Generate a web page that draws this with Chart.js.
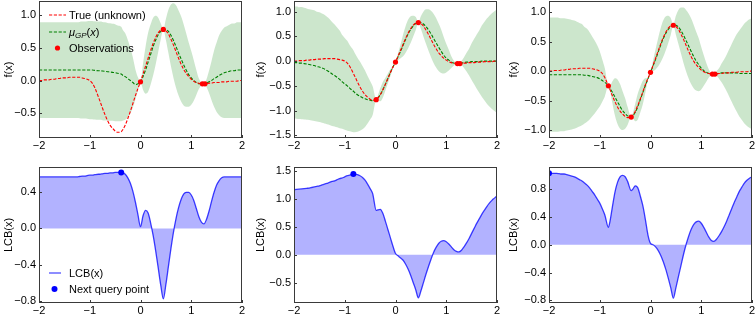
<!DOCTYPE html>
<html lang="en">
<head>
<meta charset="UTF-8">
<title>GP posterior and LCB</title>
<script src="https://cdn.jsdelivr.net/npm/chart.js@4.4.1/dist/chart.umd.min.js"></script>
<style>
body { margin: 0; background: #fff; }
#fig { position: relative; width: 756px; height: 316px; overflow: hidden;
       font-family: "Liberation Sans", Arial, sans-serif; color: #000; }
#fig canvas { position: absolute; }
.lg { position: absolute; left: 49px; height: 14px; display: flex; align-items: center;
      font-size: 11px; line-height: 14px; white-space: nowrap; }
.lg svg { width: 17px; height: 14px; margin-right: 3px; flex: none; display: block; }
sub { font-size: 8px; font-style: italic; vertical-align: -2px; line-height: 0; }
</style>
</head>
<body>
<div id="fig">
  <canvas id="c1" width="250" height="158" style="left:0;top:0"></canvas>
  <canvas id="c2" width="253" height="158" style="left:252px;top:0"></canvas>
  <canvas id="c3" width="251" height="158" style="left:505px;top:0"></canvas>
  <canvas id="c4" width="250" height="158" style="left:0;top:158px"></canvas>
  <canvas id="c5" width="253" height="158" style="left:252px;top:158px"></canvas>
  <canvas id="c6" width="251" height="158" style="left:505px;top:158px"></canvas>

  <!-- legend, top-left panel -->
  <div class="lg" style="top:8px"><svg viewBox="0 0 17 14"><line x1="0" y1="7" x2="17" y2="7" stroke="#ff0000" stroke-width="1.2" stroke-dasharray="3.2 1.6"/></svg>True (unknown)</div>
  <div class="lg" style="top:24.5px"><svg viewBox="0 0 17 14"><line x1="0" y1="7" x2="17" y2="7" stroke="#008000" stroke-width="1.2" stroke-dasharray="3.2 1.6"/></svg><span><i>μ</i><sub>GP</sub>(<i>x</i>)</span></div>
  <div class="lg" style="top:40.5px"><svg viewBox="0 0 17 14"><circle cx="8.5" cy="7" r="2.6" fill="#ff0000"/></svg>Observations</div>

  <!-- legend, bottom-left panel -->
  <div class="lg" style="top:266.3px"><svg viewBox="0 0 17 14"><line x1="0" y1="7" x2="12" y2="7" stroke="rgba(0,0,255,0.6)" stroke-width="1.5"/></svg>LCB(x)</div>
  <div class="lg" style="top:282px"><svg viewBox="0 0 17 14"><circle cx="5.5" cy="7" r="3" fill="#0000ff"/></svg>Next query point</div>
</div>

<script>
// x grid shared by every curve
const xs = [
  -2, -1.95, -1.9, -1.85, -1.8, -1.75, -1.7, -1.65, -1.6, -1.55,
  -1.5, -1.45, -1.4, -1.35, -1.3, -1.25, -1.2, -1.15, -1.1, -1.05,
  -1, -0.95, -0.9, -0.83, -0.8, -0.75, -0.7, -0.65, -0.6, -0.55,
  -0.5, -0.45, -0.38, -0.35, -0.3, -0.25, -0.2, -0.15, -0.1, -0.05,
  0, 0.05, 0.1, 0.15, 0.2, 0.25, 0.3, 0.35, 0.4, 0.45,
  0.5, 0.55, 0.6, 0.65, 0.7, 0.75, 0.8, 0.85, 0.9, 0.95,
  1, 1.05, 1.1, 1.15, 1.2, 1.25, 1.3, 1.35, 1.4, 1.45,
  1.5, 1.55, 1.6, 1.65, 1.7, 1.75, 1.8, 1.85, 1.9, 1.95,
  2
]

// true (unknown) function, same in all three top panels
const fTrue = [
  0.00, 0.00, 0.01, 0.01, 0.01, 0.02, 0.02, 0.03, 0.03, 0.04,
  0.04, 0.04, 0.05, 0.05, 0.05, 0.05, 0.05, 0.04, 0.03, 0.02,
  0.00, -0.04, -0.11, -0.25, -0.31, -0.42, -0.52, -0.61, -0.68, -0.73,
  -0.77, -0.79, -0.78, -0.75, -0.68, -0.58, -0.47, -0.35, -0.23, -0.12,
  -0.02, 0.10, 0.22, 0.34, 0.46, 0.57, 0.66, 0.73, 0.77, 0.78,
  0.76, 0.71, 0.63, 0.54, 0.44, 0.34, 0.25, 0.17, 0.11, 0.06,
  0.02, -0.01, -0.03, -0.04, -0.05, -0.05, -0.05, -0.04, -0.04, -0.03,
  -0.03, -0.03, -0.02, -0.02, -0.02, -0.01, -0.01, -0.01, -0.01, 0.00,
  0.00
]

// GP mean, one per iteration
const mean1 = [
  0.16, 0.16, 0.16, 0.16, 0.16, 0.16, 0.16, 0.16, 0.16, 0.16,
  0.16, 0.16, 0.16, 0.16, 0.16, 0.16, 0.16, 0.16, 0.16, 0.16,
  0.16, 0.16, 0.155, 0.15, 0.15, 0.145, 0.14, 0.135, 0.13, 0.125,
  0.12, 0.11, 0.10, 0.08, 0.06, 0.03, 0.00, -0.03, -0.06, -0.05,
  -0.02, 0.06, 0.16, 0.28, 0.40, 0.52, 0.62, 0.70, 0.75, 0.78,
  0.78, 0.75, 0.69, 0.61, 0.52, 0.42, 0.33, 0.24, 0.16, 0.09,
  0.04, 0.00, -0.03, -0.05, -0.05, -0.05, -0.04, -0.02, 0.00, 0.03,
  0.05, 0.08, 0.10, 0.12, 0.13, 0.14, 0.15, 0.15, 0.16, 0.16,
  0.16
]
const mean2 = [
  -0.03, -0.03, -0.04, -0.04, -0.05, -0.06, -0.07, -0.08, -0.09, -0.11,
  -0.12, -0.14, -0.16, -0.19, -0.22, -0.26, -0.29, -0.33, -0.37, -0.42,
  -0.46, -0.50, -0.55, -0.61, -0.64, -0.68, -0.71, -0.74, -0.76, -0.78,
  -0.79, -0.80, -0.78, -0.75, -0.68, -0.58, -0.47, -0.35, -0.23, -0.12,
  -0.02, 0.09, 0.20, 0.32, 0.44, 0.55, 0.64, 0.71, 0.76, 0.78,
  0.78, 0.75, 0.70, 0.63, 0.55, 0.46, 0.37, 0.28, 0.20, 0.12,
  0.06, 0.02, -0.02, -0.04, -0.05, -0.05, -0.04, -0.03, -0.02, -0.02,
  -0.01, -0.01, -0.01, -0.01, 0.00, 0.00, 0.00, 0.00, 0.00, 0.00,
  0.00
]
const mean3 = [
  -0.06, -0.06, -0.06, -0.06, -0.06, -0.06, -0.06, -0.06, -0.06, -0.06,
  -0.06, -0.06, -0.06, -0.06, -0.07, -0.07, -0.08, -0.09, -0.10, -0.11,
  -0.13, -0.16, -0.19, -0.25, -0.29, -0.36, -0.44, -0.52, -0.60, -0.67,
  -0.72, -0.76, -0.78, -0.76, -0.70, -0.60, -0.48, -0.36, -0.24, -0.13,
  -0.02, 0.09, 0.20, 0.32, 0.44, 0.55, 0.64, 0.71, 0.76, 0.78,
  0.78, 0.75, 0.69, 0.61, 0.52, 0.43, 0.34, 0.25, 0.17, 0.11,
  0.05, 0.01, -0.02, -0.04, -0.05, -0.05, -0.04, -0.04, -0.03, -0.03,
  -0.03, -0.03, -0.03, -0.03, -0.03, -0.04, -0.04, -0.04, -0.04, -0.04,
  -0.04
]

// LCB(x) (its negative is the lower edge of the band above)
const lcb1 = [
  0.57, 0.57, 0.57, 0.57, 0.57, 0.57, 0.57, 0.57, 0.57, 0.57,
  0.57, 0.57, 0.57, 0.57, 0.57, 0.57, 0.575, 0.58, 0.58, 0.585,
  0.59, 0.59, 0.595, 0.60, 0.60, 0.605, 0.61, 0.61, 0.615, 0.615,
  0.62, 0.62, 0.62, 0.615, 0.60, 0.56, 0.50, 0.41, 0.29, 0.15,
  0.02, 0.14, 0.20, 0.17, 0.06, -0.08, -0.25, -0.44, -0.63, -0.78,
  -0.62, -0.42, -0.22, -0.04, 0.11, 0.23, 0.32, 0.38, 0.40, 0.40,
  0.37, 0.31, 0.22, 0.13, 0.07, 0.05, 0.10, 0.19, 0.30, 0.40,
  0.48, 0.53, 0.56, 0.57, 0.57, 0.57, 0.57, 0.57, 0.57, 0.57,
  0.57
]
const lcb2 = [
  1.16, 1.165, 1.17, 1.175, 1.18, 1.185, 1.19, 1.20, 1.21, 1.22,
  1.23, 1.245, 1.26, 1.275, 1.29, 1.31, 1.32, 1.34, 1.36, 1.37,
  1.39, 1.41, 1.42, 1.44, 1.44, 1.43, 1.41, 1.38, 1.33, 1.26,
  1.18, 1.09, 0.79, 0.80, 0.81, 0.74, 0.60, 0.45, 0.30, 0.15,
  0.02, -0.02, -0.06, -0.10, -0.17, -0.26, -0.37, -0.50, -0.63, -0.77,
  -0.65, -0.50, -0.35, -0.21, -0.08, 0.04, 0.13, 0.20, 0.24, 0.25,
  0.23, 0.19, 0.14, 0.09, 0.06, 0.05, 0.08, 0.14, 0.21, 0.29,
  0.38, 0.47, 0.56, 0.64, 0.72, 0.79, 0.86, 0.92, 0.97, 1.01,
  1.05
]
const lcb3 = [
  1.03, 1.03, 1.03, 1.03, 1.025, 1.02, 1.02, 1.01, 1.00, 0.99,
  0.98, 0.96, 0.94, 0.92, 0.89, 0.86, 0.82, 0.77, 0.72, 0.66,
  0.60, 0.52, 0.43, 0.25, 0.33, 0.55, 0.76, 0.90, 0.98, 1.00,
  0.98, 0.91, 0.78, 0.80, 0.85, 0.82, 0.70, 0.56, 0.36, 0.14,
  0.02, 0.00, -0.03, -0.08, -0.15, -0.24, -0.35, -0.48, -0.62, -0.77,
  -0.62, -0.46, -0.30, -0.14, 0.00, 0.12, 0.22, 0.29, 0.33, 0.34,
  0.31, 0.25, 0.18, 0.11, 0.06, 0.05, 0.08, 0.13, 0.19, 0.26,
  0.34, 0.43, 0.52, 0.61, 0.69, 0.77, 0.83, 0.89, 0.93, 0.96,
  0.98
]

// observations
const obsX1 = [0, 0.45, 1.22, 1.27]
const obsY1 = [-0.02, 0.78, -0.05, -0.05]
const obsX2 = [-0.38, 0, 0.45, 1.22, 1.27]
const obsY2 = [-0.78, -0.02, 0.78, -0.05, -0.05]
const obsX3 = [-0.83, -0.38, 0, 0.45, 1.22, 1.27]
const obsY3 = [-0.25, -0.78, -0.02, 0.78, -0.05, -0.05]

// next query point (max of LCB) per iteration
const nextX = [-0.38, -0.83, -2]
const nextY = [0.62, 1.44, 1.03]

// ticks
const xTicks = [-2, -1, 0, 1, 2]
const yTicksTop1 = [-0.5, 0, 0.5, 1]
const yTicksTop2 = [-1.5, -1, -0.5, 0, 0.5, 1]
const yTicksTop3 = [-1, -0.5, 0, 0.5, 1]
const yTicksBot1 = [-0.8, -0.4, 0, 0.4]
const yTicksBot2 = [-0.5, 0, 0.5, 1, 1.5]
const yTicksBot3 = [-0.8, -0.4, 0, 0.4, 0.8]


Chart.defaults.font.family = '"Liberation Sans", Arial, sans-serif'
Chart.defaults.font.size = 11
Chart.defaults.color = '#000'

const minus = s => s.replace('-', '\u2212')
const pts = (xv, yv) => xv.map((x, i) => ({ x: x, y: yv[i] }))

// box round the axes + short inward ticks
const framePlugin = {
  id: 'frame',
  afterDatasetsDraw(chart) {
    const { ctx, chartArea: a, scales } = chart
    ctx.save()
    ctx.strokeStyle = '#3a3a3a'
    ctx.lineWidth = 1
    ctx.strokeRect(a.left + 0.5, a.top + 0.5, a.right - a.left - 1, a.bottom - a.top - 1)
    ctx.beginPath()
    scales.x.ticks.forEach(t => {
      const px = Math.round(scales.x.getPixelForValue(t.value)) + 0.5
      ctx.moveTo(px, a.bottom)
      ctx.lineTo(px, a.bottom - 3)
    })
    scales.y.ticks.forEach(t => {
      const py = Math.round(scales.y.getPixelForValue(t.value)) + 0.5
      ctx.moveTo(a.left, py)
      ctx.lineTo(a.left + 3, py)
    })
    ctx.stroke()
    ctx.restore()
  }
}

function makeChart(id, datasets, p) {
  return new Chart(document.getElementById(id), {
    type: 'line',
    data: { datasets: datasets },
    options: {
      responsive: false,
      animation: false,
      events: [],
      layout: { autoPadding: false, padding: { top: p.padTop, right: p.padRight, left: 0, bottom: 0 } },
      plugins: { legend: { display: false }, tooltip: { enabled: false } },
      elements: { point: { radius: 0 }, line: { cubicInterpolationMode: 'monotone' } },
      scales: {
        x: {
          type: 'linear', min: -2, max: 2,
          grid: { display: false, drawTicks: false }, border: { display: false },
          afterBuildTicks: s => { s.ticks = xTicks.map(v => ({ value: v })) },
          afterFit: s => { s.height = p.xh; s.paddingLeft = 0; s.paddingRight = 0 },
          ticks: { padding: 1, maxRotation: 0, autoSkip: false, callback: v => minus(String(v)) }
        },
        y: {
          type: 'linear', min: p.ymin, max: p.ymax,
          grid: { display: false, drawTicks: false }, border: { display: false },
          afterBuildTicks: s => { s.ticks = p.yTicks.map(v => ({ value: v })) },
          afterFit: s => { s.width = p.yw; s.paddingTop = 0; s.paddingBottom = 0 },
          ticks: { padding: 3, autoSkip: false, callback: v => minus(v.toFixed(1)) },
          title: { display: true, text: p.title, padding: { top: 2, bottom: 0 } }
        }
      }
    },
    plugins: [framePlugin]
  })
}

function topSets(mean, lcb, ox, oy) {
  const lo = lcb.map(v => -v)                    // lower edge = -LCB
  const hi = mean.map((m, i) => 2 * m + lcb[i])  // symmetric about the mean
  return [
    { data: pts(ox, oy), showLine: false, pointRadius: 2.6, pointBackgroundColor: '#ff0000', pointBorderWidth: 0, clip: 0, order: 0 },
    { data: pts(xs, fTrue), borderColor: '#ff0000', borderWidth: 1.1, borderDash: [3.2, 1.6], fill: false, order: 1 },
    { data: pts(xs, mean), borderColor: '#008000', borderWidth: 1.1, borderDash: [3.2, 1.6], fill: false, order: 2 },
    { data: pts(xs, lo), borderColor: 'rgba(0,0,0,0)', borderWidth: 0, fill: false, order: 4 },
    { data: pts(xs, hi), borderColor: 'rgba(0,0,0,0)', borderWidth: 0, fill: '-1', backgroundColor: 'rgba(0,128,0,0.2)', order: 3 }
  ]
}

function bottomSets(lcb, k) {
  return [
    { data: pts([nextX[k]], [nextY[k]]), showLine: false, pointRadius: 3, pointBackgroundColor: '#0000ff', pointBorderWidth: 0, clip: 0, order: 0 },
    { data: pts(xs, lcb), borderColor: 'rgba(0,0,255,0.75)', borderWidth: 1.3, fill: 'origin', backgroundColor: 'rgba(0,0,255,0.3)', order: 1 }
  ]
}

makeChart('c1', topSets(mean1, lcb1, obsX1, obsY1), { padTop: 1, padRight: 8, xh: 20, yw: 39, ymin: -0.877, ymax: 1.214, yTicks: yTicksTop1, title: 'f(x)' })
makeChart('c2', topSets(mean2, lcb2, obsX2, obsY2), { padTop: 1, padRight: 8, xh: 20, yw: 42, ymin: -1.555, ymax: 1.216, yTicks: yTicksTop2, title: 'f(x)' })
makeChart('c3', topSets(mean3, lcb3, obsX3, obsY3), { padTop: 1, padRight: 4, xh: 20, yw: 44, ymin: -1.136, ymax: 1.192, yTicks: yTicksTop3, title: 'f(x)' })

makeChart('c4', bottomSets(lcb1, 0), { padTop: 9, padRight: 8, xh: 13, yw: 39, ymin: -0.825, ymax: 0.68, yTicks: yTicksBot1, title: 'LCB(x)' })
makeChart('c5', bottomSets(lcb2, 1), { padTop: 9, padRight: 8, xh: 13, yw: 42, ymin: -0.863, ymax: 1.566, yTicks: yTicksBot2, title: 'LCB(x)' })
makeChart('c6', bottomSets(lcb3, 2), { padTop: 9, padRight: 4, xh: 13, yw: 44, ymin: -0.839, ymax: 1.121, yTicks: yTicksBot3, title: 'LCB(x)' })
</script>
</body>
</html>
